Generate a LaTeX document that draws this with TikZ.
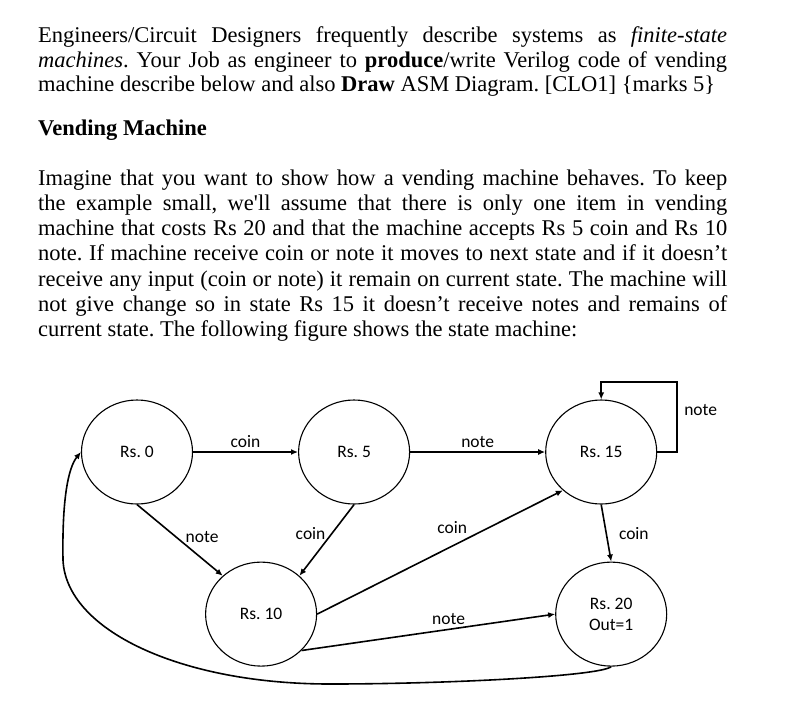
\documentclass[tikz,border=0pt]{standalone}
\usepackage{fontspec}
\setmainfont{Liberation Serif}
\newfontfamily\diagfont{Carlito}
\usetikzlibrary{arrows.meta, shapes, positioning, calc}
\frenchspacing

\begin{document}
\begin{tikzpicture}[
    x=1pt, y=-1pt,
    state/.style={ellipse, draw, line width=1.1pt,
                  minimum width=111pt, minimum height=104pt,
                  font=\diagfont\fontsize{17.5}{21}\selectfont, align=center},
    lbl/.style={font=\diagfont\fontsize{17.5}{21}\selectfont, inner sep=2pt},
    arr/.style={-{Latex[length=7pt,width=6pt]}, line width=1.6pt},
    txt/.style={anchor=base west, inner sep=0pt,
                font=\fontsize{22.5}{25}\selectfont}
  ]
  \useasboundingbox (0,0) rectangle (787,724);

  % question text
  \node[txt] (q1) at (38,42)  {\makebox[689pt][s]{Engineers/Circuit Designers frequently describe systems as \textit{finite-state}}};
  \node[txt] (q2) at (38,67)  {\makebox[689pt][s]{\textit{machines}. Your Job as engineer to \textbf{produce}/write Verilog code of vending}};
  \node[txt] (q3) at (38,91)  {machine describe below and also \textbf{Draw} ASM Diagram. [CLO1] \{marks 5\}};
  \node[txt] (ttl) at (38,135) {\textbf{Vending Machine}};
  \node[txt] (p1) at (38,185) {\makebox[689pt][s]{Imagine that you want to show how a vending machine behaves. To keep}};
  \node[txt] (p2) at (38,210) {\makebox[689pt][s]{the example small, we\textquotesingle ll assume that there is only one item in vending}};
  \node[txt] (p3) at (38,235) {\makebox[689pt][s]{machine that costs Rs 20 and that the machine accepts Rs 5 coin and Rs 10}};
  \node[txt] (p4) at (38,260) {\makebox[689pt][s]{note. If machine receive coin or note it moves to next state and if it doesn’t}};
  \node[txt] (p5) at (38,286) {\makebox[689pt][s]{receive any input (coin or note) it remain on current state. The machine will}};
  \node[txt] (p6) at (38,311) {\makebox[689pt][s]{not give change so in state Rs 15 it doesn’t receive notes and remains of}};
  \node[txt] (p7) at (38,336) {current state. The following figure shows the state machine:};

  % states
  \node[state] at (137,452) (s0) {Rs. 0};
  \node[state, right=105pt of s0]  (s5)  {Rs. 5};
  \node[state, right=135pt of s5]  (s15) {Rs. 15};
  \node[state, below=57pt of s15, xshift=10pt] (s20) {Rs. 20\\Out=1};
  \node[state, left=238pt of s20]  (s10) {Rs. 10};

  \draw[arr] (s0) -- node[lbl, above=2pt] (l1) {coin} (s5);
  \draw[arr] (s5) -- node[lbl, above=2pt] (l2) {note} (s15);
  \draw[arr] (s0.south) -- node[lbl, right=3pt, yshift=3pt] (l3) {note} (s10.135);
  \draw[arr] (s5.south) -- node[lbl, pos=0.4, left=4pt] (l4) {coin} (s10.45);
  \draw[arr] (s10.east) -- node[lbl, pos=0.55, above=10pt] (l5) {coin} (s15.-135);
  \draw[arr] (s15.south) -- node[lbl, right=10pt] (l6) {coin} (s20.north);
  \draw[arr] (s10.-42) -- node[lbl, pos=0.58, above=2pt] (l7) {note} (s20.west);

  % self loop on Rs. 15
  \draw[arr, line width=2pt] (s15.east) -- ++(20,0) |- ($(s15.north)+(0,-17)$)
    node[pos=0.3, lbl, right=4pt] (l8) {note} -- (s15.north);

  % back to Rs. 0
  \draw[arr] (s20.south) .. controls (600,676) and (450,684) .. (330,684)
    .. controls (180,684) and (66,630) .. (63,560)
    .. controls (62,500) and (68,468) .. (s0.west);
\end{tikzpicture}
\end{document}
